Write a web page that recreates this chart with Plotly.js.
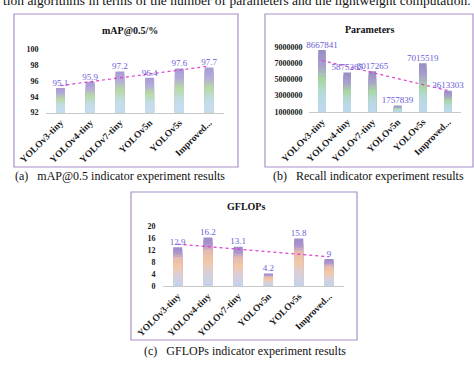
<!DOCTYPE html>
<html>
<head>
<meta charset="utf-8">
<script src="https://cdn.plot.ly/plotly-3.0.1.min.js"></script>
<style>html,body{margin:0;padding:0;background:#fff;}#chart{width:474px;height:372px;}</style>
</head>
<body>
<div id="chart"></div>
<script>
// ---- data ----
const models = ["YOLOv3-tiny", "YOLOv4-tiny", "YOLOv7-tiny", "YOLOv5n", "YOLOv5s", "Improved..."];
const mapValues = [95.1, 95.9, 97.2, 96.4, 97.6, 97.7];
const paramValues = [8667841, 5875265, 6017265, 1757839, 7015519, 3613303];
const gflopValues = [12.9, 16.2, 13.1, 4.2, 15.8, 9];
const mapTicks = [92, 94, 96, 98, 100];
const paramTicks = [1000000, 3000000, 5000000, 7000000, 9000000];
const gflopTicks = [0, 4, 8, 12, 16, 20];
const panelTitles = ["mAP@0.5/%", "Parameters", "GFLOPs"];
const captions = ["(a)\u00a0\u00a0\u00a0mAP@0.5 indicator experiment results",
                  "(b)\u00a0\u00a0\u00a0Recall indicator experiment results",
                  "(c)\u00a0\u00a0\u00a0GFLOPs indicator experiment results"];
const topText = "tion algorithms in terms of the number of parameters and the lightweight computation.";
const bottomText = "Fig. 11. Comparative experimental results of algorithms";

// ---- helpers ----
const W = 474, H = 372;
const px = v => v / W;
const py = v => 1 - v / H;
const SERIF = "Liberation Serif, Times New Roman, serif";

function hex2rgb(h){return [1,3,5].map(i=>parseInt(h.substr(i,2),16));}
function colorAt(stops, t){
  for (let i=0;i<stops.length-1;i++){
    const [t0,c0]=stops[i], [t1,c1]=stops[i+1];
    if (t>=t0 && t<=t1){
      const f=(t-t0)/(t1-t0), a=hex2rgb(c0), b=hex2rgb(c1);
      return 'rgb('+a.map((v,j)=>Math.round(v+(b[j]-v)*f)).join(',')+')';
    }
  }
  return stops[stops.length-1][1];
}
function gradientBars(vals, lo, stops, xa, ya){
  const N = 16, out = [];
  for (let k=0;k<N;k++){
    const frac=(N-k)/N;
    out.push({type:'bar', x:models, y:vals.map(v=>(v-lo)*frac), base:vals.map(()=>lo),
      width:0.3, marker:{color:colorAt(stops,(N-k-0.5)/N), line:{width:0}},
      xaxis:xa, yaxis:ya, hoverinfo:'skip', showlegend:false});
  }
  return out;
}
function trend(vals, xa, ya){
  const n=vals.length, mx=(n-1)/2, my=vals.reduce((a,b)=>a+b,0)/n;
  let sxy=0,sxx=0; vals.forEach((v,i)=>{sxy+=(i-mx)*(v-my); sxx+=(i-mx)*(i-mx);});
  const s=sxy/sxx;
  return {type:'scatter', mode:'lines', x:models, y:vals.map((v,i)=>my+s*(i-mx)),
    line:{color:'#e03fd0', width:1.2, dash:'dot'}, xaxis:xa, yaxis:ya, hoverinfo:'skip', showlegend:false, cliponaxis:false};
}
function labels(vals, xa, ya){
  return {type:'scatter', mode:'text', x:models, y:vals, text:vals.map(v=>String(v)),
    textposition:'top center', textfont:{family:SERIF, size:9, color:'#6a60d8'},
    xaxis:xa, yaxis:ya, hoverinfo:'skip', showlegend:false, cliponaxis:false};
}

const stopsA=[[0,'#c8dcf1'],[0.3,'#c2dce6'],[0.55,'#b8daa2'],[0.78,'#b4acd8'],[1,'#a898d3']];
const stopsB=[[0,'#bfd8f0'],[0.3,'#b6d9dd'],[0.52,'#a8d7a2'],[0.75,'#a8a0cd'],[1,'#988dc2']];
const stopsC=[[0,'#c0d3ec'],[0.3,'#dccfd8'],[0.5,'#f3c8a4'],[0.72,'#e5bbae'],[0.85,'#ad95cf'],[1,'#9e8bca']];

const data = [].concat(
  gradientBars(mapValues, 92, stopsA, 'x', 'y'),
  [trend(mapValues,'x','y'), labels(mapValues,'x','y')],
  gradientBars(paramValues, 1000000, stopsB, 'x2', 'y2'),
  [trend(paramValues,'x2','y2'), labels(paramValues,'x2','y2')],
  gradientBars(gflopValues, 0, stopsC, 'x3', 'y3'),
  [trend(gflopValues,'x3','y3'), labels(gflopValues,'x3','y3')]
);

const xTickFont = {family:SERIF, size:9.5, color:'#1a1a1a', weight:'bold'};
const yTickFont = {family:SERIF, size:8, color:'#1a1a1a', weight:'bold'};
function xax(dom, anchor){
  return {domain:dom, anchor:anchor, type:'category', tickangle:-45, tickfont:xTickFont,
    showline:true, linecolor:'#c9c9c9', linewidth:1, ticks:'', showgrid:false, zeroline:false, fixedrange:true};
}
function yax(dom, anchor, range, tickvals){
  return {domain:dom, anchor:anchor, range:range, tickvals:tickvals, tickformat:'d', tickfont:yTickFont,
    showline:false, showgrid:false, zeroline:false, ticks:'', ticklabelstandoff:6, fixedrange:true};
}

const boxes = [[14,14,238,167],[265,14,473,167],[131,192,357,340]];
const shapes = boxes.map(b=>({type:'rect', xref:'paper', yref:'paper',
  x0:px(b[0]), y0:py(b[1]), x1:px(b[2]), y1:py(b[3]), line:{color:'#a88fcb', width:1.2}, fillcolor:'rgba(0,0,0,0)'}));

function ann(text, x, y, size, bold){
  return {text:text, xref:'paper', yref:'paper', x:px(x), y:py(y), xanchor:'center', yanchor:'middle',
    showarrow:false, font:{family:SERIF, size:size, color:'#111', weight: bold?'bold':'normal'}};
}
const annotations = [
  ann(panelTitles[0], 130, 30, 10, true),
  ann(panelTitles[1], 370, 29, 10, true),
  ann(panelTitles[2], 246, 207, 10, true),
  ann(captions[0], 120, 176, 12, false),
  ann(captions[1], 368, 176, 12, false),
  ann(captions[2], 245, 351, 12, false),
  ann(topText, 237, 0, 13.5, false),
  ann(bottomText, 238, 378, 12.5, false)
];

const layout = {
  width:W, height:H, margin:{l:0,r:0,t:0,b:0}, paper_bgcolor:'#fff', plot_bgcolor:'rgba(0,0,0,0)',
  barmode:'overlay', showlegend:false, font:{family:SERIF},
  xaxis: xax([px(45.6), px(223.9)], 'y'),
  yaxis: yax([py(112.5), py(49.5)], 'x', [92,100], mapTicks),
  xaxis2: xax([px(309.4), px(460.6)], 'y2'),
  yaxis2: yax([py(111.7), py(47.3)], 'x2', [1000000,9000000], paramTicks),
  xaxis3: xax([px(162.6), px(344.1)], 'y3'),
  yaxis3: yax([py(286), py(226)], 'x3', [0,20], gflopTicks),
  shapes:shapes, annotations:annotations
};

Plotly.newPlot('chart', data, layout, {staticPlot:true, displayModeBar:false});
</script>
</body>
</html>
